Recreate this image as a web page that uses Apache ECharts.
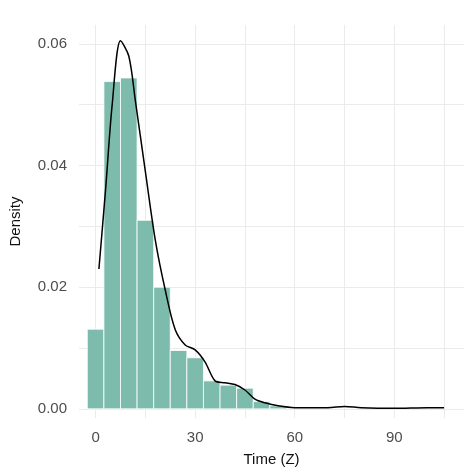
<!DOCTYPE html>
<html>
<head>
<meta charset="UTF-8">
<script src="https://cdn.jsdelivr.net/npm/echarts@6/dist/echarts.min.js"></script>
<style>body{margin:0;background:#fff}#c{width:474px;height:474px}</style>
</head>
<body>
<div id="c"></div>
<script>
// histogram bins (centers, width 5) and densities
var binCenters = [0, 5, 10, 15, 20, 25, 30, 35, 40, 45, 50, 55];
var binDensity = [0.0131, 0.0538, 0.0544, 0.031, 0.020, 0.0096, 0.0084, 0.0046, 0.0039, 0.0034, 0.0012, 0.0005];
var binWidth = 5;
// density curve
var curveX = [1, 3, 5, 7.5, 10, 12, 15, 18, 21, 24, 27, 30, 33, 36, 39, 42, 45, 48, 51, 55, 60, 65, 70, 75, 80, 90, 100, 105];
var curveY = [0.023, 0.036, 0.050, 0.0605, 0.058, 0.0506, 0.039, 0.0277, 0.0195, 0.013, 0.0105, 0.0097, 0.0077, 0.0046, 0.0043, 0.004, 0.0031, 0.0016, 0.001, 0.0005, 0.0002, 0.0002, 0.0002, 0.0004, 0.0002, 0.0001, 0.0002, 0.0002];
var xLabels = [0, 30, 60, 90];
var xGrid = [0, 15, 30, 45, 60, 75, 90, 105];
var yLabels = [0, 0.02, 0.04, 0.06];
var yGrid = [0, 0.01, 0.02, 0.03, 0.04, 0.05, 0.06];

var chart = echarts.init(document.getElementById('c'));
var txt = {color: '#4d4d4d', fontSize: 15, fontFamily: 'Liberation Sans'};
chart.setOption({
    animation: false,
    grid: {left: 73, right: 10, top: 25, bottom: 56},
    xAxis: {
        type: 'value', min: -5, max: 111,
        name: 'Time (Z)', nameLocation: 'middle', nameGap: 34,
        nameTextStyle: {color: '#111', fontSize: 15, fontFamily: 'Liberation Sans'},
        axisLine: {show: false}, axisTick: {show: false, customValues: xGrid},
        axisLabel: Object.assign({customValues: xLabels, margin: 12}, txt),
        splitLine: {lineStyle: {color: '#ebebeb'}}
    },
    yAxis: {
        type: 'value', min: -0.0015, max: 0.0631,
        name: 'Density', nameLocation: 'middle', nameGap: 56,
        nameTextStyle: {color: '#111', fontSize: 15, fontFamily: 'Liberation Sans'},
        axisLine: {show: false}, axisTick: {show: false, customValues: yGrid},
        axisLabel: Object.assign({customValues: yLabels, margin: 12, formatter: function (v) { return v.toFixed(2); }}, txt),
        splitLine: {lineStyle: {color: '#ebebeb'}}
    },
    series: [
        {
            type: 'custom',
            data: binCenters.map(function (c, i) { return [c, binDensity[i]]; }),
            renderItem: function (params, api) {
                var p0 = api.coord([api.value(0) - binWidth / 2, api.value(1)]);
                var p1 = api.coord([api.value(0) + binWidth / 2, 0]);
                return {type: 'rect', shape: {x: p0[0], y: p0[1], width: p1[0] - p0[0], height: p1[1] - p0[1]},
                    style: {fill: '#7dbcac', stroke: '#ffffff', lineWidth: 0.8}};
            }
        },
        {
            type: 'line', smooth: 0.3, symbol: 'none',
            data: curveX.map(function (x, i) { return [x, curveY[i]]; }),
            lineStyle: {color: '#000', width: 1.5}
        }
    ]
});
</script>
</body>
</html>
